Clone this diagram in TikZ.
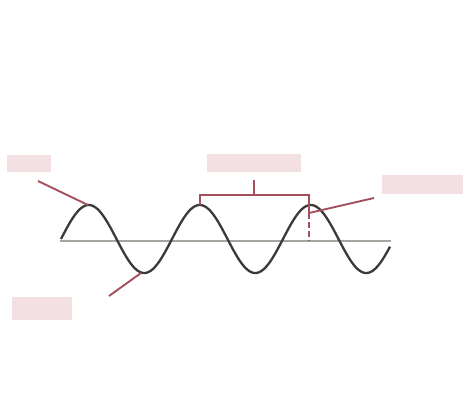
\documentclass[tikz,border=0pt]{standalone}
\usetikzlibrary{calc}
\definecolor{ptr}{HTML}{A3505C}
\definecolor{lbl}{HTML}{F3E0E3}
\definecolor{wave}{HTML}{3A3A3A}
\definecolor{axis}{HTML}{A2A79F}
\tikzset{
  labelbox/.style={fill=lbl, draw=none, inner sep=0pt},
  pointer/.style={draw=ptr, line width=1.9pt},
  wavestyle/.style={draw=wave, line width=2.3pt},
  axisstyle/.style={draw=axis, line width=1.7pt}
}
\begin{document}
\begin{tikzpicture}[x=1pt,y=-1pt]
\useasboundingbox (0,0) rectangle (474,410);
% label boxes
\node[labelbox, minimum width=44pt, minimum height=17pt] (lb1) at (29,163.5) {};
\node[labelbox, minimum width=94pt, minimum height=18pt] (lb2) at (254,163) {};
\node[labelbox, minimum width=81pt, minimum height=19pt] (lb3) at (422.5,184.5) {};
\node[labelbox, minimum width=60pt, minimum height=23pt] (lb4) at (42,308.5) {};
% axis
\coordinate (axL) at (60,241);
\coordinate (axR) at (391,241);
\draw[axisstyle] (axL) -- (axR);
% wave
\draw[wavestyle] plot[domain=61:390, samples=220, smooth] (\x, {239 - 34*sin(3.243243*(\x-61))});
% pointer lines
\coordinate (p1a) at (38,181);
\coordinate (p1b) at (88,205);
\draw[pointer] (p1a) -- (p1b);
\coordinate (p4a) at (109,296);
\coordinate (p4b) at (141,273);
\draw[pointer] (p4a) -- (p4b);
% bracket
\coordinate (bL) at (200,205);
\coordinate (bLt) at (200,195);
\coordinate (bRt) at (309,195);
\coordinate (bR) at (309,213);
\coordinate (bTop) at (254,180);
\coordinate (bMid) at (254,195);
\draw[pointer, line cap=butt] (bL) -- (bLt) -- (bRt) -- (bR);
\draw[pointer] (bMid) -- (bTop);
% pointer from crest
\coordinate (p3b) at (374,198);
\draw[pointer] (bR) -- (p3b);
% dashed amplitude line
\coordinate (dB) at (309,241);
\draw[pointer, dash pattern=on 6pt off 3pt] (bR) -- (dB);
\end{tikzpicture}
\end{document}
